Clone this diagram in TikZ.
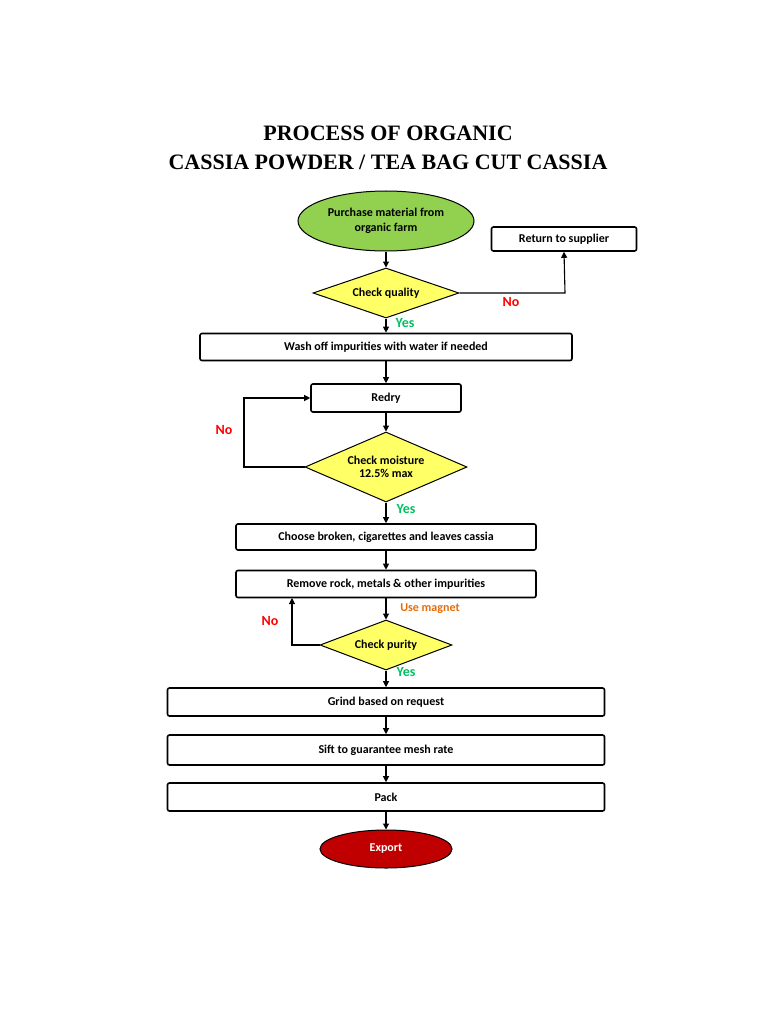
\documentclass[tikz,border=0pt]{standalone}
\usepackage{fontspec}
\setmainfont{Carlito}
\newfontfamily\titlefont{Liberation Serif}
\usetikzlibrary{shapes.geometric,arrows.meta}
\definecolor{leaf}{HTML}{92D050}
\definecolor{lemon}{HTML}{FFFF66}
\definecolor{brick}{HTML}{C00000}
\definecolor{yesgreen}{HTML}{00C060}
\definecolor{magnet}{HTML}{E46C0A}
\tikzset{
  box/.style={draw,thick,line width=1.6pt,rounded corners=2pt,minimum height=27pt,font=\fontsize{12}{14}\selectfont\bfseries},
  check/.style={draw,line width=1pt,diamond,aspect=2.9,inner sep=0pt,fill=lemon,font=\fontsize{12}{13}\selectfont\bfseries,align=center},
  blob/.style={draw,line width=1pt,ellipse,inner sep=0pt,font=\fontsize{12}{15}\selectfont\bfseries,align=center},
  flow/.style={line width=1.1pt,-{Triangle[length=6pt,width=6pt]}},
  lab/.style={font=\fontsize{14}{16}\selectfont\bfseries}
}
\begin{document}
\begin{tikzpicture}[x=1pt,y=-1pt]
\useasboundingbox (0,0) rectangle (768,1024);
\node[font=\titlefont\fontsize{22}{24}\selectfont\bfseries](t1) at (388,133){PROCESS OF ORGANIC};
\node[font=\titlefont\fontsize{22}{24}\selectfont\bfseries](t2) at (388,162){CASSIA POWDER / TEA BAG CUT CASSIA};

\node[blob,fill=leaf,minimum width=176pt,minimum height=60pt](farm) at (386,221){Purchase material from\\organic farm};
\node[box,minimum width=145pt,minimum height=24pt](ret) at (564,239){Return to supplier};
\node[check,minimum width=146pt,minimum height=50pt](qual) at (386,293){Check quality};
\node[box,minimum width=372pt](wash) at (386,347){Wash off impurities with water if needed};
\node[box,minimum width=150pt,minimum height=28pt](redry) at (386,398){Redry};
\node[check,minimum width=162pt,minimum height=70pt](moist) at (386,467){Check moisture\\12.5\% max};
\node[box,minimum width=300pt,minimum height=26pt](choose) at (386,537){Choose broken, cigarettes and leaves cassia};
\node[box,minimum width=300pt](rock) at (386,584){Remove rock, metals \& other impurities};
\node[check,minimum width=132pt,minimum height=50pt](pure) at (386,645){Check purity};
\node[box,minimum width=437pt,minimum height=28pt](grind) at (386,702){Grind based on request};
\node[box,minimum width=437pt,minimum height=30pt](sift) at (386,750){Sift to guarantee mesh rate};
\node[box,minimum width=437pt,minimum height=28pt](pack) at (386,797){Pack};
\node[blob,fill=brick,text=white,minimum width=132pt,minimum height=38pt](exp) at (386,849){Export};

\coordinate (qr) at (565,293);
\coordinate (ml) at (244,467);
\coordinate (mr) at (244,398);
\coordinate (pl) at (292,645);
\coordinate (pu) at (292,598);

\draw[flow] (farm) -- (qual);
\draw[flow] (qual.east) -- (qr) -- (ret.south);
\draw[flow] (qual) -- (wash);
\draw[flow] (wash) -- (redry);
\draw[flow] (redry) -- (moist);
\draw[flow] (moist.west) -- (ml) -- (mr) -- (redry.west);
\draw[flow] (moist) -- (choose);
\draw[flow] (choose) -- (rock);
\draw[flow] (rock) -- (pure);
\draw[flow] (pure.west) -- (pl) -- (pu);
\draw[flow] (pure) -- (grind);
\draw[flow] (grind) -- (sift);
\draw[flow] (sift) -- (pack);
\draw[flow] (pack) -- (exp);

\node[lab,text=red](no1) at (511,302){No};
\node[lab,text=yesgreen](yes1) at (405,323){Yes};
\node[lab,text=red](no2) at (224,430){No};
\node[lab,text=yesgreen](yes2) at (406,509){Yes};
\node[font=\fontsize{12}{14}\selectfont\bfseries,text=magnet](mag) at (430,609){Use magnet};
\node[lab,text=red](no3) at (270,621){No};
\node[lab,text=yesgreen](yes3) at (406,672){Yes};
\end{tikzpicture}
\end{document}
